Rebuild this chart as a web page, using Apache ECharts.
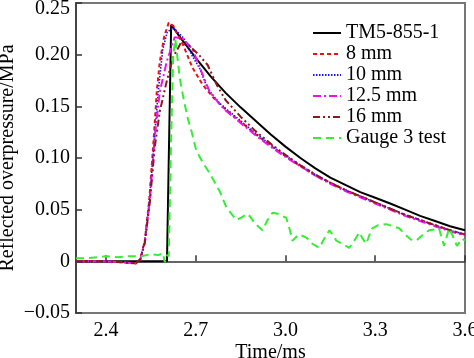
<!DOCTYPE html>
<html>
<head>
<meta charset="utf-8">
<script src="https://cdn.jsdelivr.net/npm/echarts@6/dist/echarts.min.js"></script>
<style>
html,body{margin:0;padding:0;background:#fff;}
#c{width:474px;height:358px;}
</style>
</head>
<body>
<div id="c"></div>
<script>
// ---- data ----
const xTicks = [2.4, 2.7, 3.0, 3.3, 3.6];
const seriesNames = ['TM5-855-1', '8 mm', '10 mm', '12.5 mm', '16 mm', 'Gauge 3 test'];

const tmTime = [2.30,2.40,2.50,2.604,2.618,2.65,2.70,2.75,2.80,2.85,2.90,2.95,3.00,3.05,3.10,3.15,3.20,3.25,3.30,3.35,3.40,3.45,3.50,3.55,3.60];
const tmP    = [0,0,0,0,0.229,0.216,0.197,0.179,0.163,0.149,0.136,0.123,0.111,0.100,0.090,0.081,0.074,0.067,0.0615,0.056,0.050,0.044,0.039,0.034,0.030];

const mm8Time = [2.30,2.40,2.46,2.50,2.515,2.53,2.545,2.56,2.57,2.58,2.595,2.61,2.625,2.657,2.69,2.723,2.76,2.80,2.85,2.90,2.95,3.00,3.05,3.10,3.15,3.20,3.25,3.30,3.35,3.40,3.45,3.50,3.55,3.60];
const mm8P    = [0,0,-0.001,-0.002,0.002,0.02,0.06,0.12,0.165,0.193,0.218,0.231,0.228,0.21,0.187,0.171,0.158,0.147,0.135,0.123,0.112,0.102,0.092,0.083,0.076,0.069,0.063,0.057,0.051,0.045,0.040,0.035,0.030,0.026];

const mm10Time = [2.30,2.40,2.46,2.50,2.515,2.53,2.545,2.56,2.575,2.59,2.605,2.625,2.66,2.69,2.713,2.74,2.78,2.80,2.85,2.90,2.95,3.00,3.05,3.10,3.15,3.20,3.25,3.30,3.35,3.40,3.45,3.50,3.55,3.60];
const mm10P    = [0,0,-0.001,-0.002,0.002,0.02,0.058,0.112,0.165,0.205,0.222,0.226,0.216,0.198,0.187,0.167,0.153,0.148,0.136,0.124,0.113,0.102,0.093,0.084,0.076,0.069,0.063,0.057,0.051,0.045,0.040,0.035,0.030,0.026];

const mm125Time = [2.30,2.40,2.46,2.50,2.515,2.53,2.547,2.563,2.58,2.603,2.63,2.66,2.69,2.72,2.747,2.78,2.80,2.85,2.90,2.95,3.00,3.05,3.10,3.15,3.20,3.25,3.30,3.35,3.40,3.45,3.50,3.55,3.60];
const mm125P    = [0,0,-0.001,-0.002,0.002,0.018,0.06,0.12,0.164,0.193,0.217,0.215,0.205,0.183,0.164,0.152,0.146,0.134,0.122,0.111,0.101,0.092,0.083,0.075,0.068,0.062,0.056,0.050,0.044,0.039,0.034,0.029,0.025];

const mm16Time = [2.30,2.40,2.46,2.50,2.515,2.53,2.547,2.563,2.58,2.603,2.625,2.65,2.677,2.71,2.74,2.77,2.80,2.85,2.90,2.95,3.00,3.05,3.10,3.15,3.20,3.25,3.30,3.35,3.40,3.45,3.50,3.55,3.60];
const mm16P    = [0,0,-0.001,-0.002,0.002,0.018,0.058,0.11,0.145,0.174,0.198,0.211,0.209,0.200,0.190,0.171,0.156,0.140,0.126,0.114,0.103,0.093,0.084,0.076,0.069,0.063,0.057,0.051,0.045,0.040,0.035,0.030,0.026];

const gaugeTime = [2.30,2.33,2.37,2.40,2.44,2.48,2.52,2.55,2.575,2.59,2.597,2.603,2.61,2.618,2.625,2.632,2.647,2.655,2.672,2.686,2.702,2.725,2.747,2.78,2.803,2.836,2.857,2.87,2.88,2.90,2.923,2.94,2.957,2.975,3.003,3.015,3.023,3.045,3.07,3.09,3.113,3.13,3.147,3.16,3.17,3.19,3.213,3.23,3.247,3.258,3.27,3.28,3.29,3.31,3.337,3.36,3.38,3.40,3.42,3.437,3.46,3.48,3.50,3.513,3.53,3.547,3.56,3.573,3.59,3.60];
const gaugeP    = [0.003,0.003,0.004,0.005,0.004,0.005,0.005,0.007,0.006,0.008,-0.001,0.006,0.005,0.12,0.20,0.215,0.177,0.164,0.14,0.126,0.107,0.095,0.085,0.068,0.052,0.040,0.043,0.046,0.044,0.036,0.030,0.040,0.047,0.046,0.042,0.030,0.020,0.026,0.023,0.017,0.013,0.022,0.030,0.025,0.020,0.017,0.013,0.020,0.028,0.022,0.017,0.025,0.032,0.035,0.036,0.034,0.032,0.026,0.021,0.020,0.026,0.030,0.031,0.032,0.015,0.032,0.024,0.015,0.022,0.020];

function pairs(t, p) { return t.map((x, i) => [x, p[i]]); }

const styles = [
  {color:'#000000', width:2, type:'solid'},
  {color:'#ee1111', width:2, type:[4,3]},
  {color:'#1a1aee', width:1.6, type:[1.5,1.5]},
  {color:'#ee11ee', width:2, type:[8,3,2,3]},
  {color:'#8b1a1a', width:2, type:[7,3,2,3,2,3]},
  {color:'#33ee33', width:2, type:[8,5]}
];
const dataSets = [pairs(tmTime,tmP), pairs(mm8Time,mm8P), pairs(mm10Time,mm10P), pairs(mm125Time,mm125P), pairs(mm16Time,mm16P), pairs(gaugeTime,gaugeP)];

const font = "'Liberation Serif', 'Times New Roman', serif";
const chart = echarts.init(document.getElementById('c'), null, {renderer:'canvas'});
chart.setOption({
  animation: false,
  backgroundColor: '#fff',
  grid: {left:76, right:9, top:3, bottom:45, containLabel:false, outerBoundsMode:'none',
         show:true, borderColor:'#777', borderWidth:2, backgroundColor:'transparent'},
  legend: {
    orient:'vertical', left:307, top:18, itemWidth:28, itemHeight:14, itemGap:1,
    itemStyle:{opacity:0},
    textStyle:{fontFamily:font, fontSize:20, color:'#000', lineHeight:20},
    data: seriesNames
  },
  xAxis: {
    type:'value', min:2.3, max:3.6,
    name:'Time/ms', nameLocation:'middle', nameGap:30, nameMoveOverlap:false,
    nameTextStyle:{fontFamily:font, fontSize:20, color:'#000'},
    axisLine:{lineStyle:{color:'#333', width:1.5}},
    axisTick:{inside:true, length:6, lineStyle:{color:'#333', width:1.5}, customValues: xTicks},
    axisLabel:{fontFamily:font, fontSize:20, color:'#000', margin:8, customValues: xTicks, formatter:v=>v.toFixed(1)},
    splitLine:{show:false}
  },
  yAxis: {
    type:'value', min:-0.05, max:0.25, interval:0.05,
    name:'Reflected overpressure/MPa', nameLocation:'middle', nameGap:58, nameMoveOverlap:false,
    nameTextStyle:{fontFamily:font, fontSize:20, color:'#000'},
    axisLine:{lineStyle:{color:'#333', width:1.5}},
    axisTick:{inside:true, length:6, lineStyle:{color:'#333', width:1.5}},
    axisLabel:{fontFamily:font, fontSize:20, color:'#000', margin:6,
      rich:{
        sp:{fontFamily:font, fontSize:4, lineHeight:11},
        top:{fontFamily:font, fontSize:20, color:'#000', lineHeight:20}
      },
      formatter:v=>{
        if (Math.abs(v)<1e-9) return '0';
        const s=Math.abs(v).toFixed(2);
        if (v > 0.24) return '{sp| }\n{top|' + s + '}';
        return v<0 ? '\u2212'+s : s; }},
    splitLine:{show:false}
  },
  series: seriesNames.map((n,i)=>({
    name:n, type:'line', symbol:'none', showSymbol:false, smooth:false,
    data:dataSets[i],
    lineStyle:{color:styles[i].color, width:styles[i].width, type:styles[i].type},
    itemStyle:{color:styles[i].color},
    z: 2
  }))
});
</script>
</body>
</html>
